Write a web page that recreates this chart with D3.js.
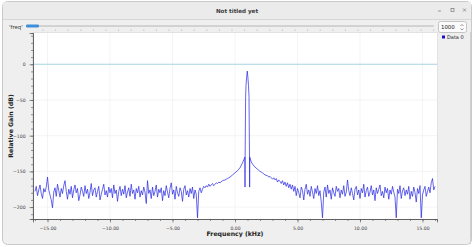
<!DOCTYPE html>
<html>
<head>
<meta charset="utf-8">
<script src="https://cdn.jsdelivr.net/npm/d3@7"></script>
<style>
  html, body { margin: 0; padding: 0; background: #ffffff; }
  svg { display: block; font-family: "DejaVu Sans", sans-serif; }
</style>
</head>
<body>
<svg id="chart" width="474" height="247"></svg>
<script>
// spectrum trace (kHz / dB)
const leftNoiseFreq = [
  -16.0,-15.9,-15.8,-15.7,-15.6,-15.5,-15.4,-15.3,-15.2,-15.1,
  -15.0,-14.9,-14.8,-14.7,-14.6,-14.5,-14.4,-14.3,-14.2,-14.1,
  -14.0,-13.9,-13.8,-13.7,-13.6,-13.5,-13.4,-13.3,-13.2,-13.1,
  -13.0,-12.9,-12.8,-12.7,-12.6,-12.5,-12.4,-12.3,-12.2,-12.1,
  -12.0,-11.9,-11.8,-11.7,-11.6,-11.5,-11.4,-11.3,-11.2,-11.1,
  -11.0,-10.9,-10.8,-10.7,-10.6,-10.5,-10.4,-10.3,-10.2,-10.1,
  -10.0,-9.9,-9.8,-9.7,-9.6,-9.5,-9.4,-9.3,-9.2,-9.1,
  -9.0,-8.9,-8.8,-8.7,-8.6,-8.5,-8.4,-8.3,-8.2,-8.1,
  -8.0,-7.9,-7.8,-7.7,-7.6,-7.5,-7.4,-7.3,-7.2,-7.1,
  -7.0,-6.9,-6.8,-6.7,-6.6,-6.5,-6.4,-6.3,-6.2,-6.1,
  -6.0,-5.9,-5.8,-5.7,-5.6,-5.5,-5.4,-5.3,-5.2,-5.1,
  -5.0,-4.9,-4.8,-4.7,-4.6,-4.5,-4.4,-4.3,-4.2,-4.1,
  -4.0,-3.9,-3.8,-3.7,-3.6,-3.5,-3.4,-3.3,-3.2,-3.1,
  -3.0,-2.9,-2.8,-2.7,-2.6,-2.5];
const leftNoiseDb = [
  -178,-171,-184,-176,-169,-181,-188,-174,-179,-172,
  -158,-176,-183,-190,-201,-179,-173,-185,-168,-177,
  -186,-174,-181,-170,-163,-178,-189,-175,-182,-171,
  -187,-176,-169,-180,-174,-191,-183,-172,-178,-185,
  -170,-181,-175,-188,-179,-167,-184,-176,-173,-186,
  -178,-171,-190,-182,-175,-168,-183,-177,-186,-172,
  -180,-174,-187,-169,-181,-176,-192,-178,-171,-184,
  -175,-182,-170,-187,-179,-173,-185,-168,-181,-176,
  -189,-174,-180,-171,-186,-177,-183,-172,-179,-195,
  -163,-181,-176,-188,-172,-184,-178,-169,-186,-175,
  -180,-173,-191,-177,-184,-170,-179,-187,-174,-166,
  -182,-176,-189,-171,-180,-185,-173,-178,-192,-175,
  -170,-183,-177,-186,-174,-181,-172,-188,-176,-182,
  -215,-178,-173,-180,-175,-171];

const peakFreq = [
  -2.4,-2.3,-2.2,-2.1,-2.0,-1.9,-1.8,-1.7,-1.6,-1.5,-1.4,-1.3,-1.2,-1.0,-0.8,-0.6,-0.4,-0.2,
  0.0,0.2,0.4,0.6,0.72,0.79,0.80,0.81,0.85,0.88,0.93,0.98,1.03,1.08,1.12,1.16,1.17,1.18,
  1.3,1.45,1.6,1.8,2.0,2.2,2.4,2.6,2.7,2.8,3.0,3.1,3.2,3.3,3.4,3.5,3.6,3.7,3.8,3.9,
  4.0,4.1,4.2,4.3,4.4,4.5,4.6];
const peakDb = [
  -173,-170,-172,-168,-171,-169,-167,-170,-168,-166,-167,-165,-166,-163,-162,-160,-158,-155,
  -152,-149,-145,-138,-133,-130,-172,-130,-45,-30,-18,-9.5,-18,-30,-45,-130,-172,-130,
  -137,-141,-144,-147,-150,-152,-155,-156,-158,-157,-161,-159,-162,-160,-165,-162,-164,-167,-163,-169,
  -165,-171,-166,-173,-168,-175,-169];

const rightNoiseFreq = [
  4.7,4.8,4.9,5.0,5.1,5.2,5.3,5.4,5.5,5.6,
  5.7,5.8,5.9,6.0,6.1,6.2,6.3,6.4,6.5,6.6,
  6.7,6.8,6.9,7.0,7.1,7.2,7.3,7.4,7.5,7.6,
  7.7,7.8,7.9,8.0,8.1,8.2,8.3,8.4,8.5,8.6,
  8.7,8.8,8.9,9.0,9.1,9.2,9.3,9.4,9.5,9.6,
  9.7,9.8,9.9,10.0,10.1,10.2,10.3,10.4,10.5,10.6,
  10.7,10.8,10.9,11.0,11.1,11.2,11.3,11.4,11.5,11.6,
  11.7,11.8,11.9,12.0,12.1,12.2,12.3,12.4,12.5,12.6,
  12.7,12.8,12.9,13.0,13.1,13.2,13.3,13.4,13.5,13.6,
  13.7,13.8,13.9,14.0,14.1,14.2,14.3,14.4,14.5,14.6,
  14.7,14.8,14.9,15.0,15.1,15.2,15.3,15.4,15.5,15.6,
  15.7,15.8,15.9,16.0];
const rightNoiseDb = [
  -178,-171,-184,-174,-180,-187,-172,-177,-190,-175,
  -168,-182,-176,-185,-171,-179,-188,-174,-181,-170,
  -184,-177,-193,-215,-179,-172,-186,-169,-181,-176,
  -189,-173,-180,-185,-171,-178,-174,-187,-176,-182,
  -170,-185,-179,-162,-177,-184,-173,-181,-190,-175,
  -171,-183,-176,-188,-174,-180,-168,-186,-177,-172,
  -185,-179,-170,-183,-176,-191,-173,-181,-175,-169,
  -184,-178,-187,-172,-180,-174,-189,-176,-182,-171,
  -179,-186,-215,-175,-181,-170,-188,-177,-173,-184,
  -176,-182,-171,-189,-178,-185,-172,-180,-193,-174,
  -181,-170,-215,-183,-176,-171,-185,-178,-172,-180,
  -166,-160,-176,-171];

const xTicks = [-15, -10, -5, 0, 5, 10, 15];
const yTicks = [0, -50, -100, -150, -200];
const refLevelDb = [0];
const seriesNames = ['Data 0'];
const sliderLabel = "'freq'";
const spinValue = '1000';
const windowTitle = 'Not titled yet';

const W = 474, H = 247;
const plot = { left: 33, right: 437, top: 33, bottom: 219 };

const svg = d3.select('#chart');

// window chrome
svg.append('rect').attr('x', 0).attr('y', 0).attr('width', W).attr('height', H).attr('fill', '#ffffff');
svg.append('rect').attr('x', 2.5).attr('y', 1.5).attr('width', 469).attr('height', 243)
  .attr('rx', 5).attr('fill', '#efefef').attr('stroke', '#c9c9c9');
svg.append('path').attr('d', 'M3,19.5 H471').attr('stroke', '#d6d6d6');
svg.append('rect').attr('x', 3).attr('y', 2).attr('width', 468).attr('height', 17).attr('fill', '#ebebeb');
svg.append('text').attr('x', 237).attr('y', 12.5).attr('text-anchor', 'middle')
  .attr('font-size', 5.6).attr('font-weight', 'bold').attr('fill', '#3c3c3c').text(windowTitle);
const ctl = svg.append('g').attr('stroke', '#777').attr('stroke-width', 0.7).attr('fill', 'none');
ctl.append('path').attr('d', 'M438,11 H441');
ctl.append('rect').attr('x', 451).attr('y', 8.5).attr('width', 3).attr('height', 3);
ctl.append('path').attr('d', 'M463,8.5 L466,11.5 M466,8.5 L463,11.5');

// slider row
svg.append('text').attr('x', 9).attr('y', 29).attr('font-size', 5.4).attr('fill', '#333').text(sliderLabel);
svg.append('rect').attr('x', 26).attr('y', 25).attr('width', 408).attr('height', 2)
  .attr('rx', 1).attr('fill', '#d2d2d2');
svg.append('rect').attr('x', 26).attr('y', 24.6).attr('width', 13).attr('height', 2.8)
  .attr('rx', 1.2).attr('fill', '#3d8fdc');
const sliderTicks = d3.range(43, 434, 12.6);
svg.append('g').selectAll('line').data(sliderTicks).join('line')
  .attr('x1', d => d).attr('x2', d => d).attr('y1', 29.5).attr('y2', 31)
  .attr('stroke', '#a8a8a8').attr('stroke-width', 0.6);
svg.append('rect').attr('x', 438.5).attr('y', 21.5).attr('width', 28).attr('height', 11)
  .attr('rx', 2).attr('fill', '#fbfbfb').attr('stroke', '#c4c4c4');
svg.append('text').attr('x', 441).attr('y', 29.4).attr('font-size', 5.4).attr('fill', '#222').text(spinValue);
svg.append('path').attr('d', 'M460.5,26 L462,24.5 L463.5,26 M460.5,28.5 L462,30 L463.5,28.5')
  .attr('stroke', '#555').attr('stroke-width', 0.6).attr('fill', 'none');

// plot frame
svg.append('rect').attr('x', 32.5).attr('y', 32.5).attr('width', 405).attr('height', 187)
  .attr('fill', '#ffffff').attr('stroke', '#e2e2e2');

const x = d3.scaleLinear().domain([-16.16, 16.16]).range([plot.left, plot.right]);
const y = d3.scaleLinear().domain([-216.7, 43.8]).range([plot.bottom, plot.top]);

// grid
const grid = svg.append('g').attr('stroke', '#efefef').attr('stroke-width', 0.7);
grid.selectAll('.gx').data(xTicks).join('line').attr('class', 'gx')
  .attr('x1', d => x(d)).attr('x2', d => x(d)).attr('y1', plot.top).attr('y2', plot.bottom);
grid.selectAll('.gy').data(yTicks).join('line').attr('class', 'gy')
  .attr('x1', plot.left).attr('x2', plot.right).attr('y1', d => y(d)).attr('y2', d => y(d));

// reference line at 0 dB
svg.append('g').selectAll('line').data(refLevelDb).join('line')
  .attr('x1', plot.left).attr('x2', plot.right)
  .attr('y1', d => y(d)).attr('y2', d => y(d))
  .attr('stroke', '#9fd4de').attr('stroke-width', 0.9);

// trace
const freqs = leftNoiseFreq.concat(peakFreq, rightNoiseFreq);
const gains = leftNoiseDb.concat(peakDb, rightNoiseDb);
const pts = freqs.map((f, i) => [f, gains[i]]);
const line = d3.line().x(d => x(d[0])).y(d => y(d[1]));
svg.append('path').datum(pts)
  .attr('d', line).attr('fill', 'none')
  .attr('stroke', '#2424e4').attr('stroke-width', 0.7).attr('stroke-linejoin', 'round');

// axes
const xAxis = svg.append('g').attr('transform', `translate(0,${plot.bottom})`);
xAxis.call(d3.axisBottom(x).tickValues(d3.range(-16, 16.01, 1)).tickSize(2).tickFormat(''));
xAxis.call(g => g.append('g').call(d3.axisBottom(x).tickValues(xTicks).tickSize(3.5).tickFormat(d3.format('.2f'))));
const yAxis = svg.append('g').attr('transform', `translate(${plot.left},0)`);
yAxis.call(d3.axisLeft(y).tickValues(d3.range(-210, 41, 10)).tickSize(2).tickFormat(''));
yAxis.call(g => g.append('g').call(d3.axisLeft(y).tickValues(yTicks).tickSize(3.5)));
svg.selectAll('.domain').attr('stroke', '#555').attr('stroke-width', 0.7);
svg.selectAll('.tick line').attr('stroke', '#555').attr('stroke-width', 0.6);
svg.selectAll('.tick text').attr('font-size', 4.6).attr('fill', '#444').attr('font-family', '"DejaVu Sans", sans-serif');
xAxis.selectAll('.tick text').attr('dy', '0.9em');
yAxis.selectAll('.tick text').attr('dx', '-0.2em');

svg.append('text').attr('x', 235).attr('y', 235.5).attr('text-anchor', 'middle')
  .attr('font-size', 6.2).attr('font-weight', 'bold').attr('fill', '#222').text('Frequency (kHz)');
svg.append('text').attr('transform', 'translate(13,126) rotate(-90)').attr('text-anchor', 'middle')
  .attr('font-size', 6.2).attr('font-weight', 'bold').attr('fill', '#222').text('Relative Gain (dB)');

// legend
const lg = svg.append('g').selectAll('g').data(seriesNames).join('g')
  .attr('transform', (d, i) => `translate(442,${38 + i * 8})`);
lg.append('rect').attr('x', 0).attr('y', -2.5).attr('width', 3).attr('height', 3).attr('fill', '#1414d0');
lg.append('text').attr('x', 5).attr('y', 0.9).attr('font-size', 5).attr('fill', '#222').text(d => d);
svg.append('path').attr('d', 'M470.5,32 V244').attr('stroke', '#d0d0d0');
</script>
</body>
</html>
